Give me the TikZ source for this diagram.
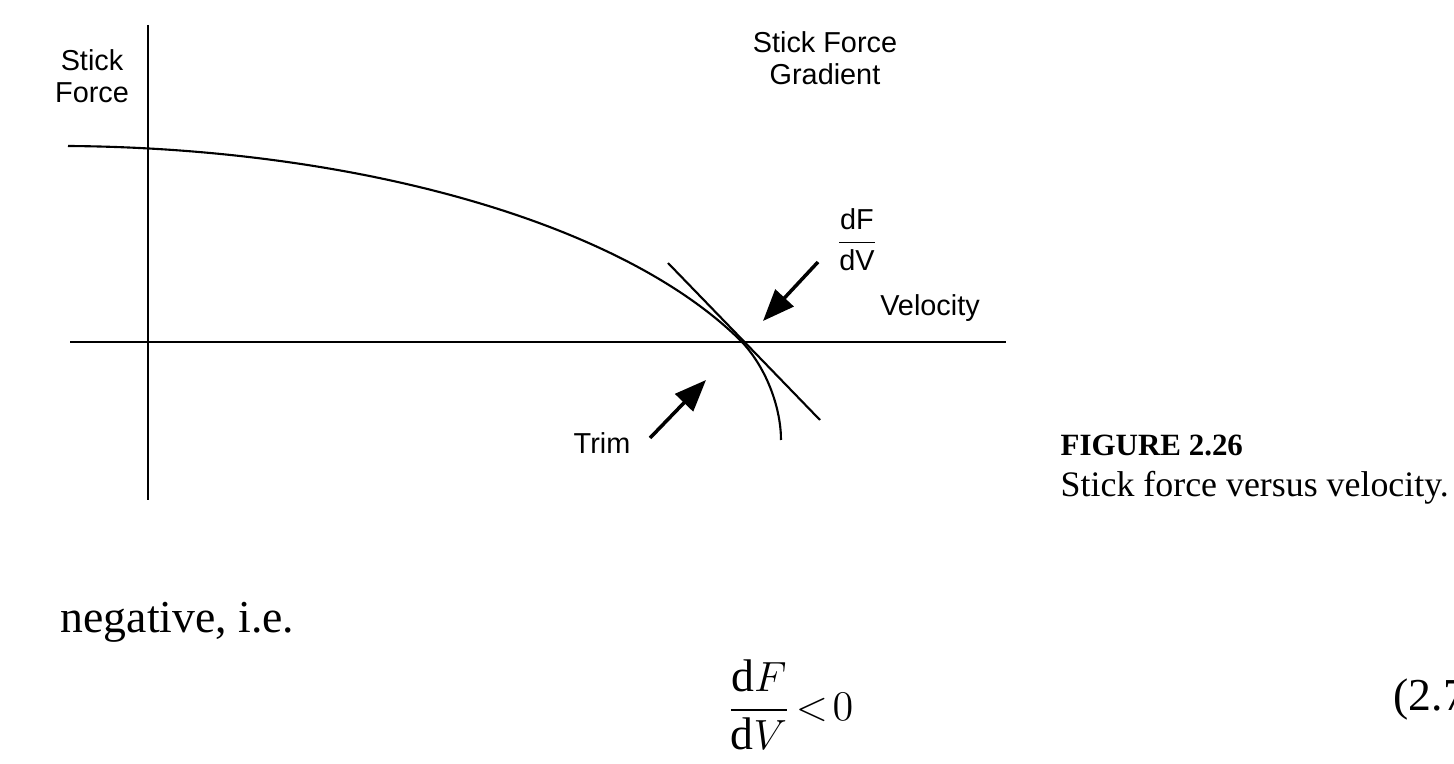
\documentclass[tikz,border=0pt]{standalone}
\usepackage{amsmath}
\usepackage{fontspec}
\setmainfont{Liberation Serif}
\newfontfamily\lab{Liberation Sans}
\usetikzlibrary{arrows.meta}
\begin{document}
\begin{tikzpicture}[x=0.01cm,y=-0.01cm,
  ln/.style={line width=0.6pt},
  arr/.style={line width=1pt,-{Triangle[length=9pt,width=7pt]}},
  lbl/.style={font=\lab\fontsize{8.2pt}{9pt}\selectfont,align=center,inner sep=0pt},
  txt/.style={font=\fontsize{13pt}{14pt}\selectfont,inner sep=0pt,anchor=west}]
\useasboundingbox (0,0) rectangle (1454,764);
\coordinate (vt) at (148,25); \coordinate (vb) at (148,500);
\coordinate (hl) at (70,342); \coordinate (hr) at (1006,342);
\draw[ln] (vt) -- (vb);
\draw[ln] (hl) -- (hr);
\coordinate (c0) at (68,146); \coordinate (c1) at (742,342); \coordinate (c2) at (781,440);
\draw[ln] (c0) .. controls (350,148) and (620,220) .. (c1) .. controls (768,370) and (781,410) .. (c2);
\coordinate (t0) at (668,263); \coordinate (t1) at (820,420);
\draw[ln] (t0) -- (t1);
\coordinate (a0) at (818,262); \coordinate (a1) at (763,321);
\draw[arr] (a0) -- (a1);
\coordinate (b0) at (650,438); \coordinate (b1) at (706,380);
\draw[arr] (b0) -- (b1);
\node[lbl] (sf) at (92,76) {Stick\\Force};
\node[lbl] (sg) at (825,58) {Stick Force\\Gradient};
\node[lbl] (dfdv) at (857,240) {$\dfrac{\text{\lab dF}}{\text{\lab dV}}$};
\node[lbl] (vel) at (930,308) {Velocity};
\node[lbl] (trim) at (602,443) {Trim};
\node[txt,font=\bfseries\fontsize{8.8pt}{9pt}\selectfont] (fig) at (1060,445) {FIGURE 2.26};
\node[txt,font=\fontsize{10.2pt}{11pt}\selectfont] (cap) at (1060,488) {Stick force versus velocity.};
\node[txt] (neg) at (60,622) {negative, i.e.};
\node[inner sep=0pt,font=\fontsize{13pt}{14pt}\selectfont] (eq) at (790,705) {$\dfrac{\mathrm{d}F}{\mathrm{d}V}\!<\!0$};
\node[txt] (num) at (1393,700) {(2.7};
\end{tikzpicture}
\end{document}
